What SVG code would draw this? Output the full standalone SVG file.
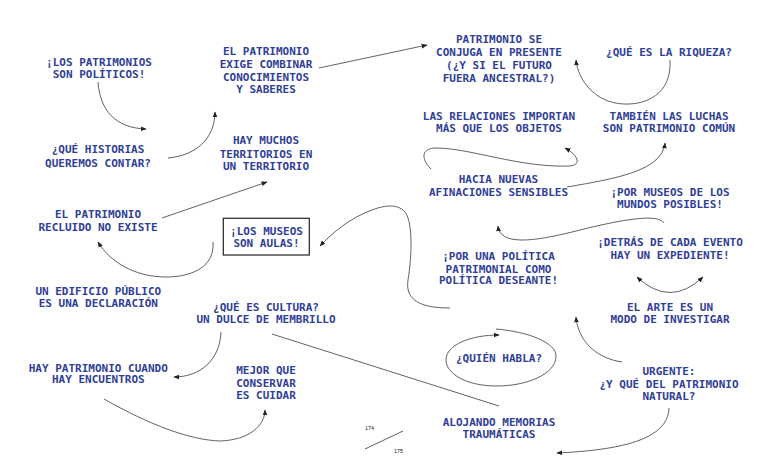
<svg xmlns="http://www.w3.org/2000/svg" width="768" height="474" viewBox="0 0 768 474">
<style>
.t{font-family:"DejaVu Sans Mono","Liberation Mono",monospace;font-weight:bold;font-size:11px;fill:#2f3e98;text-anchor:middle}
.c{fill:none;stroke:#3a3a3a;stroke-width:0.8}
.a{marker-end:url(#ah)}
.pg{font-family:"Liberation Sans",Arial,sans-serif;font-size:5.5px;fill:#222}
</style>
<defs>
<marker id="ah" viewBox="0 0 10 10" refX="9" refY="5" markerWidth="6" markerHeight="6" markerUnits="userSpaceOnUse" orient="auto-start-reverse">
<path d="M0,1 L10,5 L0,9 z" fill="#222"/>
</marker>
</defs>
<rect width="768" height="474" fill="#fff"/>
<g id="connectors">
<path class="c a" d="M98,82 C100,110 115,128 146,129"/>
<path class="c a" d="M168,158 C200,155 215,135 215,112"/>
<path class="c a" d="M319,68 L427,45"/>
<path class="c a" d="M670,60 C672,95 645,105 624,104 C595,103 578,80 576,60"/>
<path class="c a" d="M431,169 C420,158 422,148 436,148 C470,148 520,168 570,166 C582,165 578,155 565,148"/>
<path class="c a" d="M567,187 C620,178 662,170 665,143"/>
<path class="c a" d="M664,223 C658,213 620,220 580,230 C530,243 500,245 498,226"/>
<path class="c a" d="M637,277 Q670,308 703,277" marker-start="url(#ah)"/>
<path class="c a" d="M450,308 C420,308 405,300 408,280 C412,255 412,230 408,218 C404,205 390,203 372,210 C350,218 332,233 320,246"/>
<path class="c a" d="M213,242 C215,268 190,277 166,277 C135,277 110,262 98,242"/>
<path class="c a" d="M162,218 L267,182"/>
<path class="c a" d="M221,332 C220,360 200,377 174,377"/>
<path class="c a" d="M104,399 C150,425 190,440 220,441 C250,440 265,425 265,410"/>
<path class="c" d="M272,334 L499,406"/>
<path class="c" d="M365,449 L403,431"/>
<path class="c a" d="M496,329 C530,332 556,343 556,356 C556,375 525,386 497,386 C465,386 446,373 446,360 C446,345 470,335 499,335"/>
<path class="c a" d="M622,362 C595,358 578,340 576,317"/>
<path class="c a" d="M669,408 C668,440 620,450 557,453"/>
</g>
<g id="n1"><text class="t" x="99" y="66">¡LOS PATRIMONIOS</text><text class="t" x="99" y="78">SON POLÍTICOS!</text></g>
<g id="n2"><text class="t" x="266" y="55">EL PATRIMONIO</text><text class="t" x="266" y="67.7">EXIGE COMBINAR</text><text class="t" x="266" y="80.5">CONOCIMIENTOS</text><text class="t" x="266" y="93.2">Y SABERES</text></g>
<g id="n3"><text class="t" x="499" y="42.7">PATRIMONIO SE</text><text class="t" x="499" y="56">CONJUGA EN PRESENTE</text><text class="t" x="499" y="69">(¿Y SI EL FUTURO</text><text class="t" x="499" y="81.7">FUERA ANCESTRAL?)</text></g>
<g id="n4"><text class="t" x="669" y="56">¿QUÉ ES LA RIQUEZA?</text></g>
<g id="n5"><text class="t" x="98" y="153.3">¿QUÉ HISTORIAS</text><text class="t" x="98" y="166.5">QUEREMOS CONTAR?</text></g>
<g id="n6"><text class="t" x="266" y="144.3">HAY MUCHOS</text><text class="t" x="266" y="157.5">TERRITORIOS EN</text><text class="t" x="266" y="170">UN TERRITORIO</text></g>
<g id="n7"><text class="t" x="499" y="120">LAS RELACIONES IMPORTAN</text><text class="t" x="499" y="131.7">MÁS QUE LOS OBJETOS</text></g>
<g id="n8"><text class="t" x="669" y="120">TAMBIÉN LAS LUCHAS</text><text class="t" x="669" y="131.7">SON PATRIMONIO COMÚN</text></g>
<g id="n9"><text class="t" x="498.5" y="182.7">HACIA NUEVAS</text><text class="t" x="498.5" y="196">AFINACIONES SENSIBLES</text></g>
<g id="n10"><text class="t" x="670" y="196">¡POR MUSEOS DE LOS</text><text class="t" x="670" y="207.7">MUNDOS POSIBLES!</text></g>
<g id="n11"><text class="t" x="98" y="218.3">EL PATRIMONIO</text><text class="t" x="98" y="230.7">RECLUIDO NO EXISTE</text></g>
<g id="n12"><rect x="223.3" y="218.3" width="86" height="36.7" fill="none" stroke="#222" stroke-width="1.2"/><text class="t" x="266.5" y="235">¡LOS MUSEOS</text><text class="t" x="266.5" y="246.7">SON AULAS!</text></g>
<g id="n13"><text class="t" x="670" y="246">¡DETRÁS DE CADA EVENTO</text><text class="t" x="670" y="259.3">HAY UN EXPEDIENTE!</text></g>
<g id="n14"><text class="t" x="498.5" y="260">¡POR UNA POLÍTICA</text><text class="t" x="498.5" y="272.7">PATRIMONIAL COMO</text><text class="t" x="498.5" y="284.3">POLÍTICA DESEANTE!</text></g>
<g id="n15"><text class="t" x="98.3" y="295">UN EDIFICIO PÚBLICO</text><text class="t" x="98.3" y="306.7">ES UNA DECLARACIÓN</text></g>
<g id="n16"><text class="t" x="266" y="310.7">¿QUÉ ES CULTURA?</text><text class="t" x="266" y="322.7">UN DULCE DE MEMBRILLO</text></g>
<g id="n17"><text class="t" x="670" y="310.7">EL ARTE ES UN</text><text class="t" x="670" y="322.7">MODO DE INVESTIGAR</text></g>
<g id="n18"><text class="t" x="499" y="361.7">¿QUIÉN HABLA?</text></g>
<g id="n19"><text class="t" x="98.3" y="371.7">HAY PATRIMONIO CUANDO</text><text class="t" x="98.3" y="383.3">HAY ENCUENTROS</text></g>
<g id="n20"><text class="t" x="266" y="374.3">MEJOR QUE</text><text class="t" x="266" y="386.7">CONSERVAR</text><text class="t" x="266" y="399.3">ES CUIDAR</text></g>
<g id="n21"><text class="t" x="669" y="375">URGENTE:</text><text class="t" x="669" y="387.7">¿Y QUÉ DEL PATRIMONIO</text><text class="t" x="669" y="400">NATURAL?</text></g>
<g id="n22"><text class="t" x="499" y="426">ALOJANDO MEMORIAS</text><text class="t" x="499" y="438.3">TRAUMÁTICAS</text></g>
<g id="pages"><text class="pg" x="365" y="429.5">174</text><text class="pg" x="394" y="452.5">175</text></g>
</svg>
